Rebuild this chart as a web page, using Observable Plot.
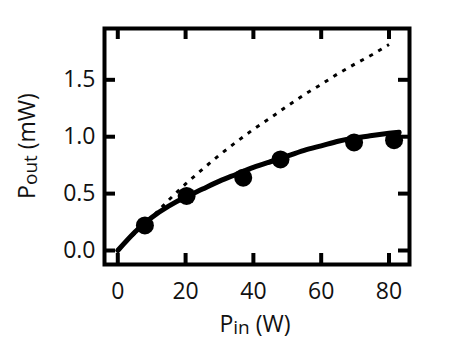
<!DOCTYPE html>
<html><head><meta charset="utf-8">
<script src="https://cdn.jsdelivr.net/npm/d3@7"></script>
<script src="https://cdn.jsdelivr.net/npm/@observablehq/plot@0.6"></script>
<style>html,body{margin:0;padding:0;background:#fff} svg{display:block}</style>
</head><body><div id="chart"></div>
<script>
// measured points
const pointPin  = [8, 20.3, 37, 48, 69.7, 81.5];
const pointPout = [0.22, 0.48, 0.64, 0.80, 0.95, 0.97];
// solid fitted curve
const fitPin  = [0, 5, 10, 15, 20, 25, 30, 35, 40, 45, 50, 55, 60, 65, 70, 75, 80, 83];
const fitPout = [0, 0.16, 0.29, 0.39, 0.47, 0.54, 0.61, 0.67, 0.73, 0.78, 0.83, 0.88, 0.92, 0.96, 0.99, 1.01, 1.03, 1.04];
// dotted curve
const linPin  = [0, 5, 10, 15, 20, 25, 30, 35, 40, 45, 50, 55, 60, 65, 70, 75, 80];
const linPout = [0, 0.15, 0.29, 0.443, 0.585, 0.715, 0.84, 0.955, 1.065, 1.165, 1.27, 1.37, 1.46, 1.555, 1.64, 1.72, 1.81];
// ticks
const xTicks = [0, 20, 40, 60, 80];
const yTicks = [0, 0.5, 1.0, 1.5];
const xTickLabels = ["0", "20", "40", "60", "80"];
const yTickLabels = ["0.0", "0.5", "1.0", "1.5"];
// axis labels
const xLabelParts = ["P", "in", " (W)"];
const yLabelParts = ["P", "out", " (mW)"];

const points = pointPin.map((x, i) => ({x, y: pointPout[i]}));
const fit = fitPin.map((x, i) => ({x, y: fitPout[i]}));
const lin = linPin.map((x, i) => ({x, y: linPout[i]}));

const W = 474, H = 351;
const mL = 104, mR = 65, mT = 28, mB = 87;
const innerW = W - mL - mR, innerH = H - mT - mB;
const tickLen = 11;
const font = "'Open Sans', sans-serif";

const chart = Plot.plot({
  width: W, height: H,
  marginLeft: mL, marginRight: mR, marginTop: mT, marginBottom: mB,
  style: {fontFamily: font, fontSize: "23px", color: "#111", background: "#fff"},
  x: {domain: [-3.92, 86.05]},
  y: {domain: [-0.123, 1.951]},
  marks: [
    Plot.axisX(xTicks, {tickSize: 0, tickPadding: 18, tickFormat: (d) => xTickLabels[xTicks.indexOf(d)], label: null, fontSize: 23}),
    Plot.axisY(yTicks, {tickSize: 0, tickPadding: 9, tickFormat: (d) => yTickLabels[yTicks.indexOf(d)], label: null, fontSize: 23}),
    Plot.tickX(xTicks, {x: d => d, insetTop: innerH - tickLen, stroke: "#000", strokeWidth: 4}),
    Plot.tickX(xTicks, {x: d => d, insetBottom: innerH - tickLen, stroke: "#000", strokeWidth: 4}),
    Plot.tickY(yTicks, {y: d => d, insetRight: innerW - tickLen, stroke: "#000", strokeWidth: 4}),
    Plot.tickY(yTicks, {y: d => d, insetLeft: innerW - tickLen, stroke: "#000", strokeWidth: 4}),
    Plot.line(lin, {x: "x", y: "y", stroke: "#000", strokeWidth: 3, strokeDasharray: "4,6.3", strokeLinecap: "butt"}),
    Plot.line(fit, {x: "x", y: "y", stroke: "#000", strokeWidth: 5, curve: "natural"}),
    Plot.dot(points, {x: "x", y: "y", r: 9, fill: "#000", stroke: "none"}),
    Plot.frame({stroke: "#000", strokeWidth: 4})
  ]
});

const svg = d3.select(chart);
function addLabel(parts, transform) {
  const t = svg.append("text")
    .attr("transform", transform)
    .attr("text-anchor", "middle")
    .attr("font-family", font)
    .attr("font-size", 23)
    .attr("fill", "#111");
  t.append("tspan").text(parts[0]);
  t.append("tspan").attr("font-size", 19).attr("dy", 2).text(parts[1]);
  t.append("tspan").attr("dy", -2).text(parts[2]);
}
addLabel(xLabelParts, "translate(255,332)");
addLabel(yLabelParts, "translate(35,146) rotate(-90)");

document.getElementById("chart").append(chart);
</script>
</body></html>
